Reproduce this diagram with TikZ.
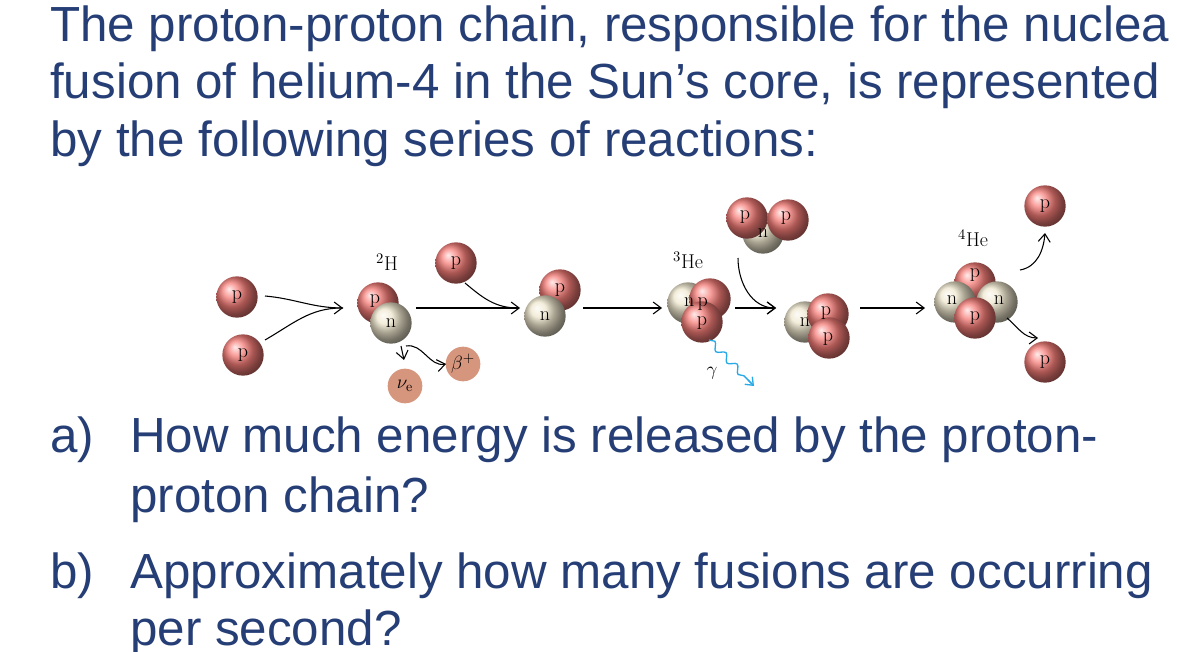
\documentclass[tikz,border=0pt]{standalone}
\usepackage{fontspec}
\newfontfamily\arialf{Liberation Sans}
\usetikzlibrary{decorations.pathmorphing,arrows.meta}
\definecolor{tblue}{RGB}{38,62,118}
\definecolor{pred}{RGB}{245,125,120}
\definecolor{nbeige}{RGB}{238,230,205}
\definecolor{lep}{RGB}{214,150,125}
\definecolor{gam}{RGB}{40,170,230}
\begin{document}
\begin{tikzpicture}[x=0.75pt,y=-0.75pt,
  prot/.style={circle,minimum size=31pt,inner sep=0pt,shading=ball,ball color=pred,font=\fontsize{15}{15}\selectfont},
  neut/.style={circle,minimum size=31pt,inner sep=0pt,shading=ball,ball color=nbeige,font=\fontsize{15}{15}\selectfont},
  lept/.style={circle,minimum size=26pt,inner sep=0pt,fill=lep,font=\fontsize{15}{15}\selectfont},
  lab/.style={font=\fontsize{15}{15}\selectfont},
  arr/.style={-{Straight Barb[length=6pt,width=9pt]},line width=0.8pt},
  ttl/.style={anchor=base west,text=tblue,font=\arialf\fontsize{37}{37}\selectfont,inner sep=0pt}]
\useasboundingbox (0,0) rectangle (1177,652);
% title
\node[ttl] (t1) at (50,42) {The proton-proton chain, responsible for the nuclea};
\node[ttl] (t2) at (50,99) {fusion of helium-4 in the Sun’s core, is represented};
\node[ttl] (t3) at (50,157) {by the following series of reactions:};
% particles
\node[prot] (pa) at (237,297) {p};
\node[prot] (pb) at (243,355) {p};
\node[prot] (dp) at (378,303) {};
\node[neut] (dn) at (391,323) {n};
\node[lab] at (375,301) {p};
\node[lab] (h2) at (387,262) {$^{2}$H};
\node[lept] (nu) at (405,386) {$\nu_{\mathrm e}$};
\node[lept] (bp) at (463,364) {$\beta^{+}$};
\node[prot] (p3) at (456,263) {p};
\node[prot] (tp) at (560,290) {p};
\node[neut] (tn) at (545,316) {n};
% He3
\node[lab] (he3) at (688,260) {$^{3}$He};
\node[neut] (an) at (688,303) {};
\node[prot] (ap1) at (710,299) {};
\node[prot] (ap2) at (702,322) {};
\node[lab] at (696,304) {n\,p};
\node[lab] at (702,323) {p};
% top pnp
\node[neut] (bn) at (763,233) {};
\node[prot] (bp1) at (747,218) {};
\node[prot] (bp2) at (788,220) {};
\node[lab] at (745,217) {p};
\node[lab] at (763,233) {n};
\node[lab] at (786,218) {p};
% result He3
\node[neut] (cn) at (805,322) {n};
\node[prot] (cp1) at (828,314) {};
\node[prot] (cp2) at (829,338) {};
\node[lab] at (826,313) {p};
\node[lab] at (828,339) {p};
% He4
\node[lab] (he4) at (973,238) {$^{4}$He};
\node[prot] (ep1) at (975,283) {};
\node[neut] (en1) at (955,302) {};
\node[neut] (en2) at (997,302) {};
\node[prot] (ep2) at (975,318) {};
\node[lab] at (975,275) {p};
\node[lab] at (952,300) {n};
\node[lab] at (999,300) {n};
\node[lab] at (975,318) {p};
\node[prot] (fp1) at (1045,206) {p};
\node[prot] (fp2) at (1045,362) {p};
% arrows
\coordinate (m1) at (343,308);
\draw[line width=0.8pt] (265,296) to[out=-5,in=180] (m1);
\draw[arr] (265,340) to[out=30,in=180] (m1);
\draw[arr] (416,308) -- (520,308);
\draw[line width=0.8pt] (465,283) to[out=-40,in=180] (518,308);
\draw[arr] (401,346) -- (404,360);
\draw[arr] (406,346) to[out=10,in=190] (446,364);
\draw[arr] (583,308) -- (662,308);
\draw[arr] (735,308) -- (776,308);
\draw[arr] (738,258) to[out=-90,in=180] (776,308);
\draw[arr] (860,308) -- (925,308);
\draw[arr] (1020,270) to[out=10,in=-95] (1045,233);
\draw[arr] (1007,318) to[out=-40,in=180] (1038,338);
\draw[gam,line width=1pt,decorate,decoration={snake,amplitude=2.5pt,segment length=12pt,post length=6pt}] (709,340) -- (752,384);
\draw[gam,line width=1pt,-{Straight Barb[length=5pt,width=8pt]}] (748,380) -- (754,386);
\node[lab] (g) at (712,373) {$\gamma$};
% questions
\node[ttl] (qa) at (50,452) {a)};
\node[ttl] (qa1) at (130,452) {How much energy is released by the proton-};
\node[ttl] (qa2) at (130,512) {proton chain?};
\node[ttl] (qb) at (50,588) {b)};
\node[ttl] (qb1) at (130,588) {Approximately how many fusions are occurring};
\node[ttl] (qb2) at (130,645) {per second?};
\end{tikzpicture}
\end{document}
